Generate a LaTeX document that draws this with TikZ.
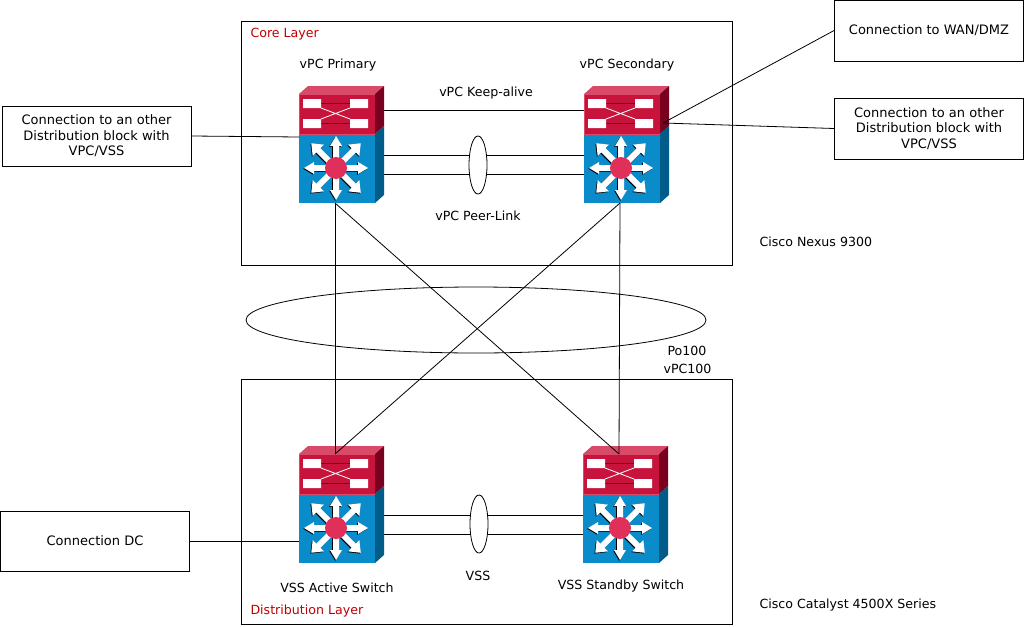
\documentclass[tikz,border=0pt]{standalone}
\usepackage{fontspec}
\setmainfont{DejaVu Sans}
\definecolor{swred}{HTML}{C8143C}
\definecolor{swredtop}{HTML}{D84A68}
\definecolor{swredside}{HTML}{7A0020}
\definecolor{swblue}{HTML}{0A8CCB}
\definecolor{swblueside}{HTML}{005C88}
\definecolor{swdot}{HTML}{E0305A}
\definecolor{layerred}{HTML}{C00000}
\tikzset{
    txtbox/.style={draw, line width=0.8pt, fill=white, minimum width=189, minimum height=60, align=center, font=\fontsize{13}{15.5}\selectfont},
    lbl/.style={font=\fontsize{12.6}{14}\selectfont},
    layerlbl/.style={font=\fontsize{12.6}{14}\selectfont, text=layerred, anchor=west},
    netline/.style={line width=0.8pt},
    switch/.pic={
        % front is 76 wide, origin at its top left corner
        \fill[swredtop] (0,0) -- (9,-8) -- (85,-8) -- (76,0) -- cycle;
        \fill[swredside] (76,0) -- (85,-8) -- (85,32) -- (76,40) -- cycle;
        \fill[swblueside] (76,40) -- (85,32) -- (85,101) -- (76,109) -- cycle;
        \fill[swred] (0,0) rectangle (76,40);
        \fill[swblue] (0,40) rectangle (76,109);
        \draw[swredtop, line width=0.6pt] (0,40) -- (0,0) -- (76,0) (0,40) -- (76,40);
        \draw[swredside, line width=0.8pt] (22,9) -- (51,9) (22,29) -- (51,29);
        \draw[white, line width=0.8pt] (22,14) -- (51,25) (22,25) -- (51,14);
        \fill[white] (4,5) rectangle (22,14) (4,25) rectangle (22,34)
                     (51,5) rectangle (69,14) (51,25) rectangle (69,34);
        \foreach \a/\w/\t in {0/6/32,45/8/35,90/6/32,135/8/35,180/6/32,225/8/35,270/6/32,315/8/35}
        {
            \fill[black, shift={(36.2,74.8)}, rotate=\a] (8,-3) -- (\t-10,-3) -- (\t-10,-\w) -- (\t,0) -- (\t-10,\w) -- (\t-10,3) -- (8,3) -- cycle;
            \fill[white, shift={(37,74)}, rotate=\a] (8,-3) -- (\t-10,-3) -- (\t-10,-\w) -- (\t,0) -- (\t-10,\w) -- (\t-10,3) -- (8,3) -- cycle;
        }
        \fill[swdot] (37,74) circle (11);
        \coordinate (-top) at (36,0);
        \coordinate (-bot) at (36,109);
        \coordinate (-sidea) at (85,16);
        \coordinate (-lefta) at (0,43);
        \coordinate (-righta) at (85,61);
        \coordinate (-rightb) at (85,80);
        \coordinate (-port) at (79,29);
    }
}
\begin{document}
\begin{tikzpicture}[x=1pt,y=-1pt]
    \useasboundingbox[fill=white] (0,0) rectangle (1024,626);
    % layers
    \node[draw, line width=0.8pt, minimum width=491, minimum height=244, anchor=north west, inner sep=0] (corelayer) at (241,21) {};
    \node[draw, line width=0.8pt, minimum width=491, minimum height=245, anchor=north west, inner sep=0] (distlayer) at (241,379) {};
    \draw[netline] (476,320) ellipse (230 and 33);
    % switches
    \coordinate (primpos) at (299,94);
    \coordinate (secpos) at (584,94);
    \coordinate (actpos) at (299,454);
    \coordinate (stbpos) at (583,454);
    \path pic (prim) at (primpos) {switch};
    \path pic (sec) at (secpos) {switch};
    \path pic (act) at (actpos) {switch};
    \path pic (stb) at (stbpos) {switch};
    % boxes on the sides
    \node[txtbox] (blockleft) at (96.5,136) {Connection to an other\\Distribution block with\\VPC/VSS};
    \node[txtbox, minimum height=61] (wan) at (929,30.5) {Connection to WAN/DMZ};
    \node[txtbox, minimum height=61] (blockright) at (929,128.5) {Connection to an other\\Distribution block with\\VPC/VSS};
    \node[txtbox] (dc) at (95,541) {Connection DC};
    % links
    \draw[netline] (blockleft.east) -- (prim-lefta);
    \draw[netline] (wan.west) -- (sec-port);
    \draw[netline] (blockright.west) -- (sec-port);
    \draw[netline] (dc.east) -- (act-lefta |- dc.east);
    \draw[netline] (prim-sidea) -- (sec-lefta |- prim-sidea);
    \foreach \n in {a,b}
    {
        \draw[netline] (prim-right\n) -- (sec-lefta |- prim-right\n);
        \draw[netline] (act-right\n) -- (stb-lefta |- act-right\n);
    }
    \draw[netline] (prim-bot) -- (act-top);
    \draw[netline] (prim-bot) -- (stb-top);
    \draw[netline] (sec-bot) -- (act-top);
    \draw[netline] (sec-bot) -- (stb-top);
    \draw[netline, fill=white] (478,165) ellipse (9 and 29);
    \draw[netline, fill=white] (479,524) ellipse (9 and 29);
    % labels
    \node[layerlbl] (corelbl) at (247,34) {Core Layer};
    \node[layerlbl] (distlbl) at (247,611) {Distribution Layer};
    \node[lbl] (primlbl) at (338,65) {vPC Primary};
    \node[lbl] (seclbl) at (627,65) {vPC Secondary};
    \node[lbl] (keeplbl) at (486,93) {vPC Keep-alive};
    \node[lbl] (peerlbl) at (478,216) {vPC Peer-Link};
    \node[lbl, anchor=west] (nexuslbl) at (756,242) {Cisco Nexus 9300};
    \node[lbl, anchor=west] (polbl) at (664,351) {Po100};
    \node[lbl, anchor=west] (vpclbl) at (660,369) {vPC100};
    \node[lbl] (actlbl) at (337,588) {VSS Active Switch};
    \node[lbl] (vsslbl) at (478,576) {VSS};
    \node[lbl] (stblbl) at (621,586) {VSS Standby Switch};
    \node[lbl, anchor=west] (catlbl) at (756,605) {Cisco Catalyst 4500X Series};
\end{tikzpicture}
\end{document}
